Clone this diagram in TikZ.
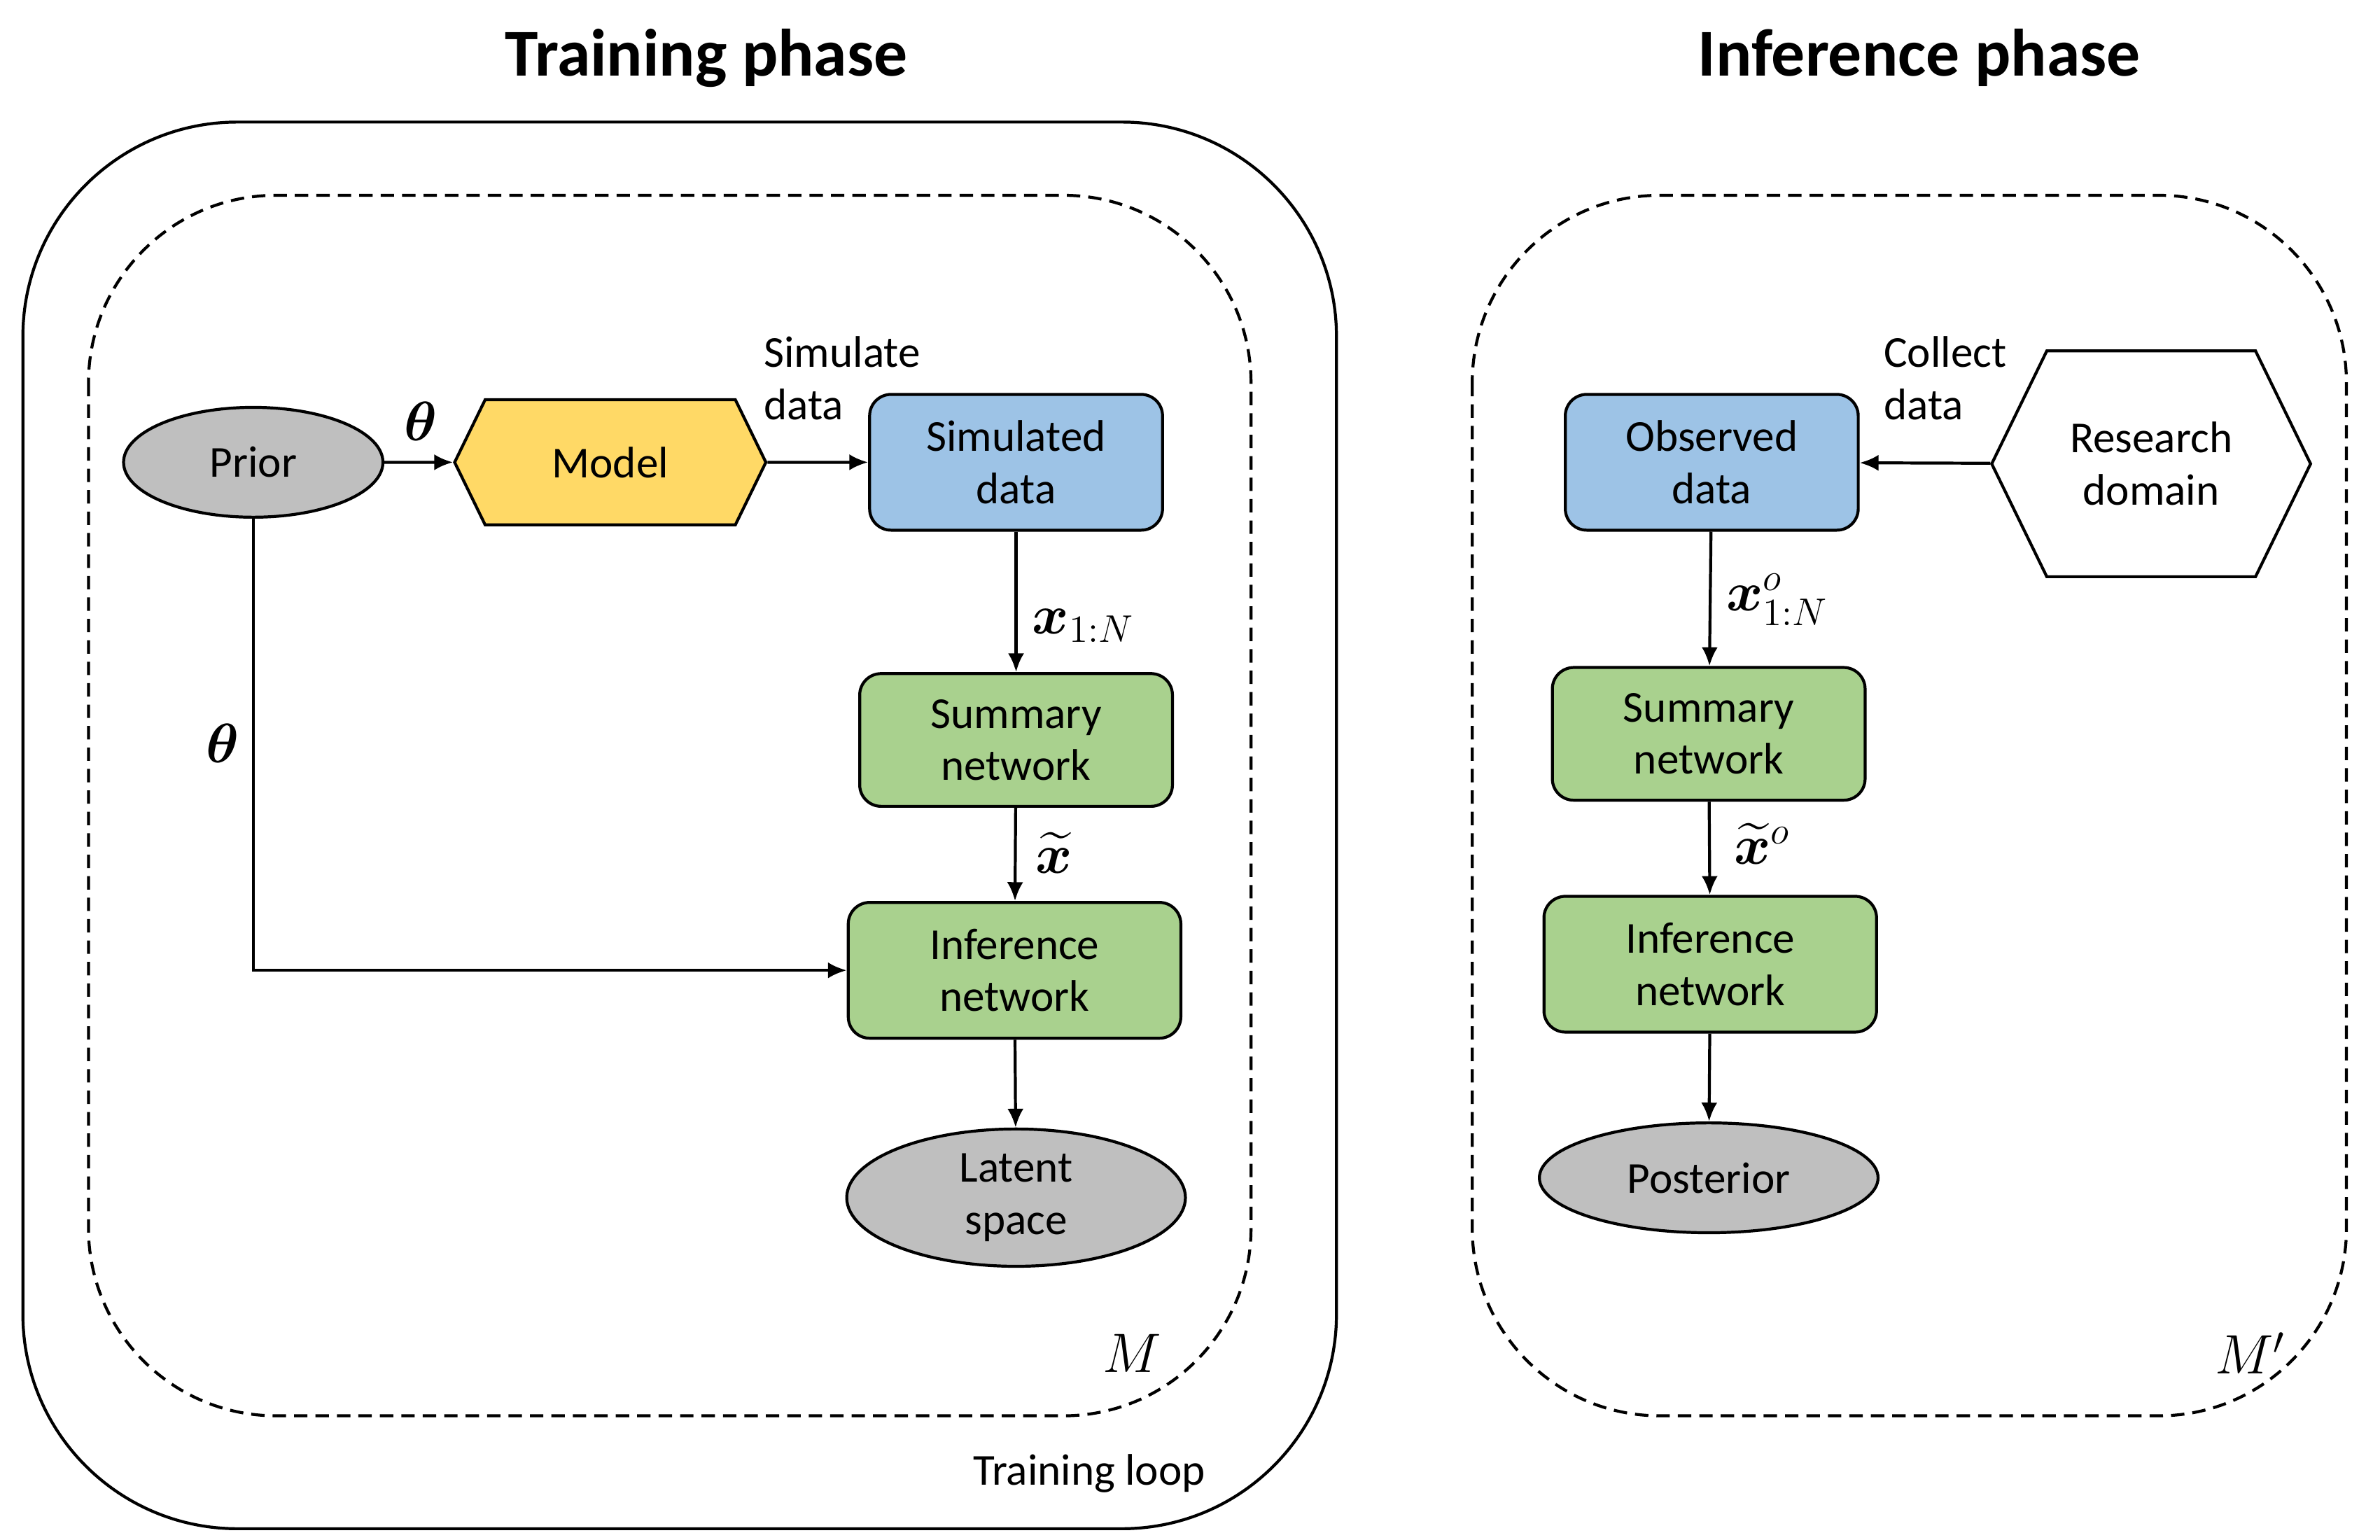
\documentclass[tikz,border=0pt]{standalone}
\usepackage{amsmath,bm}
\usepackage{fontspec}
\setmainfont{Carlito}
\usetikzlibrary{shapes.geometric,shapes.symbols,arrows.meta}
\begin{document}
\begin{tikzpicture}[x=0.02cm,y=-0.02cm,line width=1.1pt,
  txt/.style={font=\fontsize{16.5}{19.5}\selectfont,align=center},
  box/.style={txt,draw,rounded corners=8pt,inner sep=0pt},
  ell/.style={txt,draw,ellipse,fill=gray!50,inner sep=0pt},
  hex/.style={txt,draw,signal,signal to=west and east,signal pointer angle=128,inner sep=0pt},
  dsh/.style={dash pattern=on 5pt off 3pt},
  arr/.style={-{Latex[length=7pt,width=6pt]}},
  mth/.style={font=\fontsize{20}{24}\selectfont,inner sep=1pt},
  lab/.style={font=\fontsize{16.5}{19.5}\selectfont,align=left}]
\useasboundingbox (0,0) rectangle (1560,1009);
\node[font=\fontsize{25}{30}\selectfont\bfseries] (t1) at (463,38) {Training phase};
\node[font=\fontsize{25}{30}\selectfont\bfseries] (t2) at (1258,38) {Inference phase};
\draw[rounded corners=80] (15,80) rectangle (876,1002);
\draw[dsh,rounded corners=70] (58,128) rectangle (820,928);
\draw[dsh,rounded corners=70] (965,128) rectangle (1538,928);
% training
\node[ell,minimum width=170*0.02cm,minimum height=72*0.02cm] (prior) at (166,303) {Prior};
\node[hex,fill={rgb,255:red,255;green,217;blue,102},minimum width=204*0.02cm,minimum height=82*0.02cm] (model) at (400,303) {Model};
\node[box,fill={rgb,255:red,157;green,195;blue,230},minimum width=192*0.02cm,minimum height=89*0.02cm] (sim) at (666,303) {Simulated\\data};
\node[box,fill={rgb,255:red,169;green,209;blue,142},minimum width=205*0.02cm,minimum height=87*0.02cm] (sum) at (666,485) {Summary\\network};
\node[box,fill={rgb,255:red,169;green,209;blue,142},minimum width=218*0.02cm,minimum height=89*0.02cm] (inf) at (665,636) {Inference\\network};
\node[ell,minimum width=222*0.02cm,minimum height=90*0.02cm] (lat) at (666,785) {Latent\\space};
\draw[arr] (prior) -- (model);
\draw[arr] (model) -- (sim);
\draw[arr] (sim) -- (sum);
\draw[arr] (sum) -- (inf);
\draw[arr] (inf) -- (lat);
\draw[arr] (prior.south) |- (inf.west);
\node[mth] (th1) at (276,276) {$\bm{\theta}$};
\node[mth] (th2) at (146,487) {$\bm{\theta}$};
\node[lab] (simlab) at (552,248) {Simulate\\data};
\node[mth] (x1) at (710,410) {$\bm{x}_{1:N}$};
\node[mth] (xt) at (691,559) {$\widetilde{\bm{x}}$};
\node[mth] (M1) at (742,887) {$M$};
\node[font=\fontsize{16.5}{19.5}\selectfont] (tl) at (714,966) {Training loop};
% inference
\node[box,fill={rgb,255:red,157;green,195;blue,230},minimum width=192*0.02cm,minimum height=89*0.02cm] (obs) at (1122,303) {Observed\\data};
\node[hex,fill=white,minimum width=209*0.02cm,minimum height=148*0.02cm] (res) at (1410,304) {Research\\domain};
\node[box,fill={rgb,255:red,169;green,209;blue,142},minimum width=205*0.02cm,minimum height=87*0.02cm] (sum2) at (1120,481) {Summary\\network};
\node[box,fill={rgb,255:red,169;green,209;blue,142},minimum width=218*0.02cm,minimum height=89*0.02cm] (inf2) at (1121,632) {Inference\\network};
\node[ell,minimum width=222*0.02cm,minimum height=72*0.02cm] (post) at (1120,772) {Posterior};
\draw[arr] (res) -- (obs);
\draw[arr] (obs) -- (sum2);
\draw[arr] (sum2) -- (inf2);
\draw[arr] (inf2) -- (post);
\node[lab] (collab) at (1275,248) {Collect\\data};
\node[mth] (x2) at (1165,393) {$\bm{x}^{o}_{1:N}$};
\node[mth] (xt2) at (1155,553) {$\widetilde{\bm{x}}^{o}$};
\node[mth] (M2) at (1475,887) {$M'$};
\end{tikzpicture}
\end{document}
